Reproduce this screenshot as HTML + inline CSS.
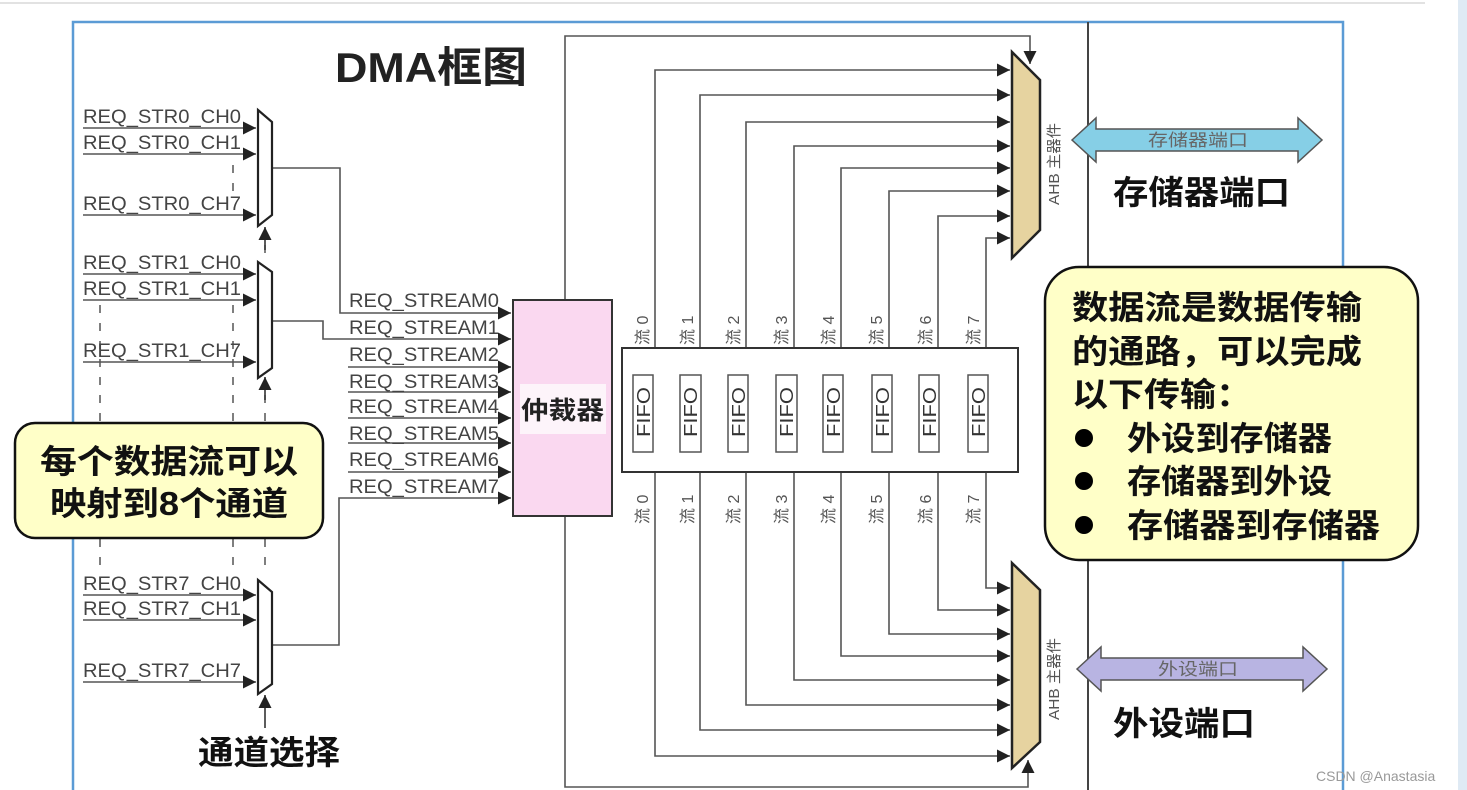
<!DOCTYPE html>
<html><head><meta charset="utf-8"><style>
html,body{margin:0;padding:0;background:#fff}
svg{display:block}
text{font-family:"Liberation Sans","Noto Sans CJK SC",sans-serif}
</style></head><body>
<svg width="1467" height="790" viewBox="0 0 1467 790" xmlns="http://www.w3.org/2000/svg">
<defs>
<marker id="b" viewBox="0 0 10 10" refX="10" refY="5" markerWidth="13" markerHeight="13" orient="auto" markerUnits="userSpaceOnUse"><path d="M0,0L10,5L0,10z" fill="#222"/></marker>
</defs>
<rect x="1458" y="0" width="9" height="790" fill="#dfeaf4"/>
<line x1="0" y1="3" x2="1425" y2="3" stroke="#d8d8d8" stroke-width="1.5"/>
<path d="M73,790V22H1343V790" fill="none" stroke="#5b9bd5" stroke-width="2.5"/>
<line x1="1088" y1="22" x2="1088" y2="790" stroke="#444" stroke-width="2"/>

<text x="335" y="82" font-size="42" font-weight="bold" fill="#222" textLength="192" lengthAdjust="spacingAndGlyphs">DMA框图</text>

<g stroke="#555" stroke-width="1.6" fill="none">
<path d="M565,300V36H1030V64" marker-end="url(#b)"/>
<path d="M565,516V787H1028V760" marker-end="url(#b)"/>
<path d="M655,348V70H1010" marker-end="url(#b)"/>
<path d="M700,348V95H1010" marker-end="url(#b)"/>
<path d="M746,348V122H1010" marker-end="url(#b)"/>
<path d="M794,348V146H1010" marker-end="url(#b)"/>
<path d="M841,348V168H1010" marker-end="url(#b)"/>
<path d="M889,348V191H1010" marker-end="url(#b)"/>
<path d="M938,348V216H1010" marker-end="url(#b)"/>
<path d="M986,348V238H1010" marker-end="url(#b)"/>
<path d="M655,472V756H1010" marker-end="url(#b)"/>
<path d="M700,472V730H1010" marker-end="url(#b)"/>
<path d="M746,472V705H1010" marker-end="url(#b)"/>
<path d="M794,472V680H1010" marker-end="url(#b)"/>
<path d="M841,472V656H1010" marker-end="url(#b)"/>
<path d="M889,472V634H1010" marker-end="url(#b)"/>
<path d="M938,472V610H1010" marker-end="url(#b)"/>
<path d="M986,472V588H1010" marker-end="url(#b)"/>
<path d="M655,348V372" marker-end="url(#b)"/><path d="M700,348V372" marker-end="url(#b)"/>
<path d="M746,348V372" marker-end="url(#b)"/><path d="M794,348V372" marker-end="url(#b)"/>
<path d="M841,348V372" marker-end="url(#b)"/><path d="M889,348V372" marker-end="url(#b)"/>
<path d="M938,348V372" marker-end="url(#b)"/><path d="M986,348V372" marker-end="url(#b)"/>
<path d="M655,472V455" marker-end="url(#b)"/><path d="M700,472V455" marker-end="url(#b)"/>
<path d="M746,472V455" marker-end="url(#b)"/><path d="M794,472V455" marker-end="url(#b)"/>
<path d="M841,472V455" marker-end="url(#b)"/><path d="M889,472V455" marker-end="url(#b)"/>
<path d="M938,472V455" marker-end="url(#b)"/><path d="M986,472V455" marker-end="url(#b)"/>
</g>

<path d="M1012,52L1040,80V230L1012,258Z" fill="#e6d3a0" stroke="#222" stroke-width="2.5"/>
<path d="M1012,563L1040,590V742L1012,768Z" fill="#e6d3a0" stroke="#222" stroke-width="2.5"/>
<text transform="translate(1059,205) rotate(-90)" font-size="15" fill="#555" textLength="82" lengthAdjust="spacingAndGlyphs">AHB 主器件</text>
<text transform="translate(1059,720) rotate(-90)" font-size="15" fill="#555" textLength="82" lengthAdjust="spacingAndGlyphs">AHB 主器件</text>

<rect x="622" y="348" width="396" height="124" fill="#fff" stroke="#333" stroke-width="2"/>
<g fill="#fff" stroke="#555" stroke-width="1.5">
<rect x="633" y="375" width="20" height="77"/><rect x="680" y="375" width="21" height="77"/>
<rect x="728" y="375" width="20" height="77"/><rect x="776" y="375" width="21" height="77"/>
<rect x="823" y="375" width="20" height="77"/><rect x="872" y="375" width="20" height="77"/>
<rect x="919" y="375" width="20" height="77"/><rect x="968" y="375" width="20" height="77"/>
</g>
<g font-size="18" fill="#333">
<text transform="translate(650,437) rotate(-90)" textLength="50" lengthAdjust="spacingAndGlyphs">FIFO</text>
<text transform="translate(697,437) rotate(-90)" textLength="50" lengthAdjust="spacingAndGlyphs">FIFO</text>
<text transform="translate(745,437) rotate(-90)" textLength="50" lengthAdjust="spacingAndGlyphs">FIFO</text>
<text transform="translate(793,437) rotate(-90)" textLength="50" lengthAdjust="spacingAndGlyphs">FIFO</text>
<text transform="translate(840,437) rotate(-90)" textLength="50" lengthAdjust="spacingAndGlyphs">FIFO</text>
<text transform="translate(889,437) rotate(-90)" textLength="50" lengthAdjust="spacingAndGlyphs">FIFO</text>
<text transform="translate(936,437) rotate(-90)" textLength="50" lengthAdjust="spacingAndGlyphs">FIFO</text>
<text transform="translate(985,437) rotate(-90)" textLength="50" lengthAdjust="spacingAndGlyphs">FIFO</text>
</g>
<g font-size="16" fill="#555">
<text transform="translate(648,345) rotate(-90)">流 0</text><text transform="translate(693,345) rotate(-90)">流 1</text>
<text transform="translate(739,345) rotate(-90)">流 2</text><text transform="translate(787,345) rotate(-90)">流 3</text>
<text transform="translate(834,345) rotate(-90)">流 4</text><text transform="translate(882,345) rotate(-90)">流 5</text>
<text transform="translate(931,345) rotate(-90)">流 6</text><text transform="translate(979,345) rotate(-90)">流 7</text>
<text transform="translate(648,524) rotate(-90)">流 0</text><text transform="translate(693,524) rotate(-90)">流 1</text>
<text transform="translate(739,524) rotate(-90)">流 2</text><text transform="translate(787,524) rotate(-90)">流 3</text>
<text transform="translate(834,524) rotate(-90)">流 4</text><text transform="translate(882,524) rotate(-90)">流 5</text>
<text transform="translate(931,524) rotate(-90)">流 6</text><text transform="translate(979,524) rotate(-90)">流 7</text>
</g>

<rect x="513" y="300" width="99" height="216" fill="#fad8f0" stroke="#333" stroke-width="2"/>
<rect x="520" y="384" width="86" height="50" fill="#fdf4fa"/>
<text x="521" y="419" font-size="25" font-weight="bold" fill="#222" textLength="83" lengthAdjust="spacingAndGlyphs">仲裁器</text>

<g stroke="#555" stroke-width="1.6" fill="none">
<path d="M272,168H340V313H511" marker-end="url(#b)"/>
<path d="M272,321H323V339H511" marker-end="url(#b)"/>
<path d="M348,367H511" marker-end="url(#b)"/>
<path d="M348,392H511" marker-end="url(#b)"/>
<path d="M348,418H511" marker-end="url(#b)"/>
<path d="M348,443H511" marker-end="url(#b)"/>
<path d="M348,472H511" marker-end="url(#b)"/>
<path d="M272,645H339V498H511" marker-end="url(#b)"/>
</g>
<g font-size="19" fill="#444">
<text x="349" y="307" textLength="150" lengthAdjust="spacingAndGlyphs">REQ_STREAM0</text>
<text x="349" y="334" textLength="150" lengthAdjust="spacingAndGlyphs">REQ_STREAM1</text>
<text x="349" y="361" textLength="150" lengthAdjust="spacingAndGlyphs">REQ_STREAM2</text>
<text x="349" y="388" textLength="150" lengthAdjust="spacingAndGlyphs">REQ_STREAM3</text>
<text x="349" y="413" textLength="150" lengthAdjust="spacingAndGlyphs">REQ_STREAM4</text>
<text x="349" y="440" textLength="150" lengthAdjust="spacingAndGlyphs">REQ_STREAM5</text>
<text x="349" y="466" textLength="150" lengthAdjust="spacingAndGlyphs">REQ_STREAM6</text>
<text x="349" y="493" textLength="150" lengthAdjust="spacingAndGlyphs">REQ_STREAM7</text>
</g>

<g stroke="#555" stroke-width="1.5" stroke-dasharray="8,10" fill="none">
<line x1="100" y1="305" x2="100" y2="575"/>
<line x1="233" y1="165" x2="233" y2="200"/>
<line x1="233" y1="305" x2="233" y2="575"/>
<line x1="265" y1="245" x2="265" y2="258"/>
<line x1="265" y1="395" x2="265" y2="575"/>
</g>
<g stroke="#333" stroke-width="1.6" fill="none">
<path d="M265,250V227" marker-end="url(#b)"/>
<path d="M265,400V377" marker-end="url(#b)"/>
<path d="M265,728V695" marker-end="url(#b)"/>
</g>

<g fill="#fff" stroke="#222" stroke-width="2.2">
<path d="M258,110L272,122V215L258,226Z"/>
<path d="M258,262L272,272V368L258,378Z"/>
<path d="M258,580L272,592V684L258,694Z"/>
</g>
<g stroke="#555" stroke-width="1.6" fill="none">
<path d="M83,128H256" marker-end="url(#b)"/><path d="M83,154H256" marker-end="url(#b)"/><path d="M83,215H256" marker-end="url(#b)"/>
<path d="M83,274H256" marker-end="url(#b)"/><path d="M83,300H256" marker-end="url(#b)"/><path d="M83,362H256" marker-end="url(#b)"/>
<path d="M83,595H256" marker-end="url(#b)"/><path d="M83,620H256" marker-end="url(#b)"/><path d="M83,682H256" marker-end="url(#b)"/>
</g>
<g font-size="19" fill="#444">
<text x="83" y="123" textLength="158" lengthAdjust="spacingAndGlyphs">REQ_STR0_CH0</text>
<text x="83" y="149" textLength="158" lengthAdjust="spacingAndGlyphs">REQ_STR0_CH1</text>
<text x="83" y="210" textLength="158" lengthAdjust="spacingAndGlyphs">REQ_STR0_CH7</text>
<text x="83" y="269" textLength="158" lengthAdjust="spacingAndGlyphs">REQ_STR1_CH0</text>
<text x="83" y="295" textLength="158" lengthAdjust="spacingAndGlyphs">REQ_STR1_CH1</text>
<text x="83" y="357" textLength="158" lengthAdjust="spacingAndGlyphs">REQ_STR1_CH7</text>
<text x="83" y="590" textLength="158" lengthAdjust="spacingAndGlyphs">REQ_STR7_CH0</text>
<text x="83" y="615" textLength="158" lengthAdjust="spacingAndGlyphs">REQ_STR7_CH1</text>
<text x="83" y="677" textLength="158" lengthAdjust="spacingAndGlyphs">REQ_STR7_CH7</text>
</g>
<text x="198" y="764" font-size="33" font-weight="bold" fill="#111" textLength="142" lengthAdjust="spacingAndGlyphs">通道选择</text>

<rect x="15" y="423" width="308" height="115" rx="20" fill="#ffffc8" stroke="#111" stroke-width="2.5"/>
<text x="40" y="473" font-size="33" font-weight="bold" fill="#111" textLength="258" lengthAdjust="spacingAndGlyphs">每个数据流可以</text>
<text x="50" y="515" font-size="33" font-weight="bold" fill="#111" textLength="238" lengthAdjust="spacingAndGlyphs">映射到8个通道</text>

<path d="M1072,140L1096,118V129H1298V118L1322,140L1298,162V151H1096V162Z" fill="#86cfe6" stroke="#555" stroke-width="1.5"/>
<text x="1148" y="146" font-size="17" fill="#666" textLength="100" lengthAdjust="spacingAndGlyphs">存储器端口</text>
<path d="M1077,669L1101,647V658H1303V647L1327,669L1303,691V680H1101V691Z" fill="#b8b4e2" stroke="#555" stroke-width="1.5"/>
<text x="1158" y="675" font-size="17" fill="#666" textLength="80" lengthAdjust="spacingAndGlyphs">外设端口</text>
<text x="1113" y="204" font-size="33" font-weight="bold" fill="#111" textLength="177" lengthAdjust="spacingAndGlyphs">存储器端口</text>
<text x="1113" y="735" font-size="33" font-weight="bold" fill="#111" textLength="142" lengthAdjust="spacingAndGlyphs">外设端口</text>

<rect x="1045" y="267" width="373" height="293" rx="34" fill="#ffffc8" stroke="#111" stroke-width="2.5"/>
<g font-size="33" font-weight="bold" fill="#111">
<text x="1072" y="319" textLength="290" lengthAdjust="spacingAndGlyphs">数据流是数据传输</text>
<text x="1072" y="363" textLength="290" lengthAdjust="spacingAndGlyphs">的通路，可以完成</text>
<text x="1072" y="406" textLength="180" lengthAdjust="spacingAndGlyphs">以下传输：</text>
<text x="1127" y="450" textLength="205" lengthAdjust="spacingAndGlyphs">外设到存储器</text>
<text x="1127" y="493" textLength="205" lengthAdjust="spacingAndGlyphs">存储器到外设</text>
<text x="1127" y="537" textLength="253" lengthAdjust="spacingAndGlyphs">存储器到存储器</text>
</g>
<circle cx="1084" cy="438" r="9" fill="#000"/>
<circle cx="1084" cy="481" r="9" fill="#000"/>
<circle cx="1084" cy="525" r="9" fill="#000"/>

<text x="1316" y="781" font-size="14" fill="#999">CSDN @Anastasia</text>
</svg>
</body></html>
